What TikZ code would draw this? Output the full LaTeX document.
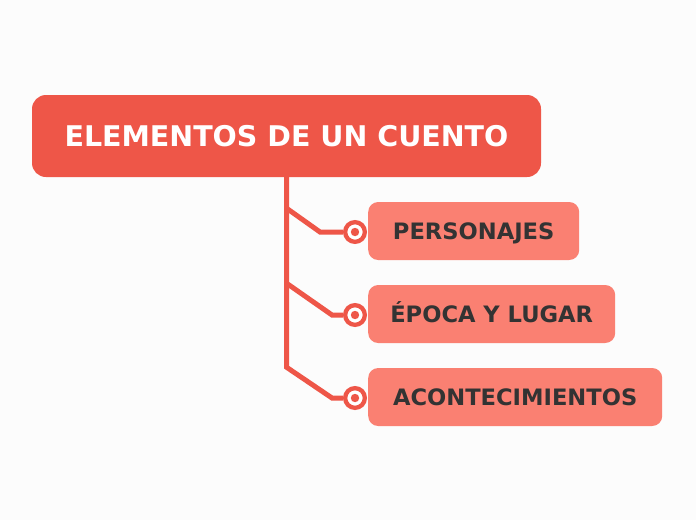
\documentclass[tikz,border=0pt]{standalone}
\usepackage{fontspec}
\setmainfont{DejaVu Sans}
\usetikzlibrary{calc}
\definecolor{rootred}{HTML}{EE5648}
\definecolor{salmonbox}{HTML}{FA8072}
\definecolor{darktext}{HTML}{333333}
\definecolor{paper}{HTML}{FCFCFC}
\tikzset{
  topic/.style={rectangle, rounded corners=14pt, fill=rootred, text=white, inner sep=0pt,
    font=\bfseries\fontsize{28.5}{34}\selectfont, text height=20.8pt, text depth=0pt,
    minimum width=509pt, minimum height=82pt},
  subtopic/.style={rectangle, rounded corners=10pt, fill=salmonbox, text=darktext, inner sep=0pt,
    font=\bfseries\fontsize{22.6}{27}\selectfont, text height=16.4pt, text depth=0pt,
    minimum height=58pt, anchor=west},
  branch/.style={draw=rootred, line width=5pt},
  port/.style={circle, draw=rootred, line width=4.3pt, fill=white, inner sep=0pt, minimum size=19.7pt,
    path picture={\fill[rootred] (path picture bounding box.center) circle (4.2pt);}}
}

\begin{document}
\begin{tikzpicture}[x=1pt, y=-1pt]
  \fill[paper] (0,0) rectangle (696,520);
  \useasboundingbox (0,0) rectangle (696,520);

  \node[topic] (root) at (286.5,136) {ELEMENTOS DE UN CUENTO};

  \node[subtopic, minimum width=211pt] (personajes) at (368,231) {PERSONAJES};
  \node[subtopic, minimum width=247pt] (epoca) at (368,314) {ÉPOCA Y LUGAR};
  \node[subtopic, minimum width=294pt] (sucesos) at (368,397) {ACONTECIMIENTOS};

  \coordinate (fork1) at ($(root.south)+(0,31)$);
  \coordinate (fork2) at ($(root.south)+(0,106)$);
  \coordinate (fork3) at ($(root.south)+(0,190)$);
  \coordinate (knee1) at (320,232);
  \coordinate (knee2) at (332,315);
  \coordinate (knee3) at (332,398);

  \node[port] (port1) at ($(personajes.west)+(-13,1)$) {};
  \node[port] (port2) at ($(epoca.west)+(-13,1)$) {};
  \node[port] (port3) at ($(sucesos.west)+(-13,1)$) {};

  \draw[branch] (root.south) -- (fork3) -- (knee3) -- (port3);
  \draw[branch] (fork1) -- (knee1) -- (port1);
  \draw[branch] (fork2) -- (knee2) -- (port2);
\end{tikzpicture}
\end{document}
